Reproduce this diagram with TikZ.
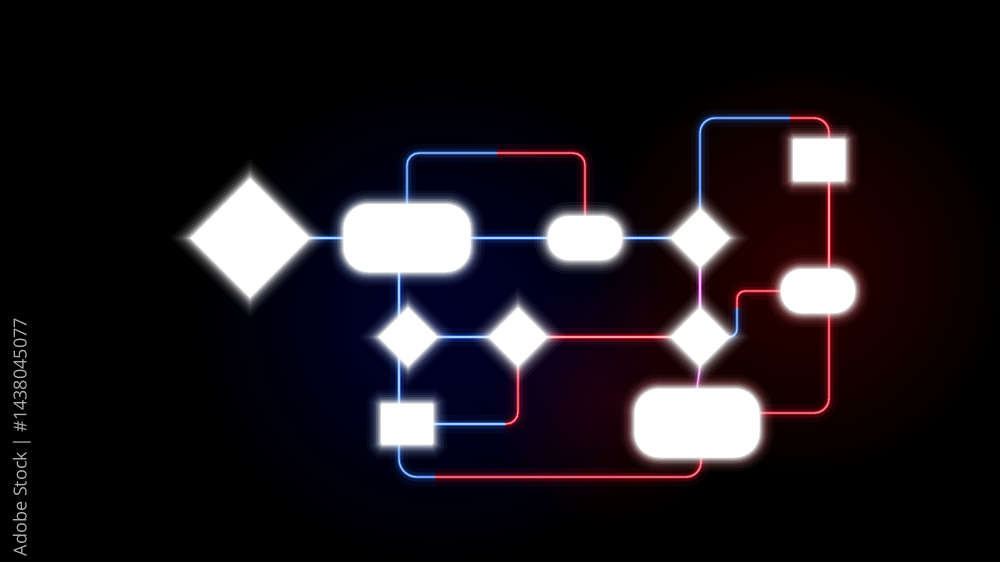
\documentclass[tikz,border=0pt]{standalone}
\usepackage{fontspec}
\newfontfamily\wmfont{Open Sans}
\usetikzlibrary{shapes.geometric}
\pgfdeclarelayer{haze}
\pgfdeclarelayer{lines}
\pgfsetlayers{haze,lines,main}
\definecolor{bl}{RGB}{40,120,255}
\definecolor{blcore}{RGB}{170,205,255}
\definecolor{rd}{RGB}{255,20,50}
\definecolor{rdcore}{RGB}{255,150,160}
\definecolor{mg}{RGB}{220,70,230}
\definecolor{mgcore}{RGB}{245,180,250}
\definecolor{wm}{RGB}{175,175,175}
\definecolor{hzb}{RGB}{20,60,200}
\definecolor{hzr}{RGB}{200,0,30}
\tikzset{
 glow/.style 2 args={draw=#2, line width=1.3pt, line cap=round,
   preaction={draw=#1, line width=18pt, draw opacity=.06},
   preaction={draw=#1, line width=9pt, draw opacity=.15},
   preaction={draw=#1, line width=3.4pt, draw opacity=.6}},
 bglow/.style={glow={bl}{blcore}},
 rglow/.style={glow={rd}{rdcore}},
 mglow/.style={glow={mg}{mgcore}},
 shape glow/.style={fill=white, draw=white, line width=2pt,
   preaction={draw=#1, line width=30pt, draw opacity=.05},
   preaction={draw=#1, line width=24pt, draw opacity=.08},
   preaction={draw=#1, line width=19pt, draw opacity=.1},
   preaction={draw=white, line width=15pt, draw opacity=.12},
   preaction={draw=white, line width=12pt, draw opacity=.16},
   preaction={draw=white, line width=9pt, draw opacity=.2},
   preaction={draw=white, line width=7pt, draw opacity=.24},
   preaction={draw=white, line width=5pt, draw opacity=.3},
   preaction={draw=white, line width=3.5pt, draw opacity=.45}},
 dia/.style={diamond, aspect=1, inner sep=0pt, minimum width=#1, minimum height=#1},
 rbox/.style 2 args={rectangle, inner sep=0pt, minimum width=#1, minimum height=#2},
}
\begin{document}
\begin{tikzpicture}[x=1pt, y=-1pt]
\useasboundingbox (0,0) rectangle (1000,562);
\begin{pgfonlayer}{haze}
\fill[black] (0,0) rectangle (1000,562);
\foreach \r in {10,20,...,240} \fill[hzb, fill opacity=.012] (440,320) circle[radius=\r pt];
\foreach \r in {10,20,...,200} \fill[hzr, fill opacity=.016] (800,270) circle[radius=\r pt];
\foreach \r in {8,16,...,120} \fill[hzr, fill opacity=.01] (610,400) circle[radius=\r pt];
\end{pgfonlayer}

% nodes
\node[dia=117pt, shape glow=white] (d1) at (250,238) {};
\node[rbox={125pt}{66pt}, rounded corners=24pt, shape glow=blcore] (r1) at (407,238) {};
\node[rbox={72pt}{42pt}, rounded corners=20pt, shape glow=white] (p1) at (585,238) {};
\node[dia=57pt, shape glow=white] (d3) at (700,238) {};
\node[rbox={50pt}{40pt}, rounded corners=1pt, shape glow=rdcore] (sq1) at (819,160) {};
\node[rbox={72pt}{42pt}, rounded corners=20pt, shape glow=rdcore] (p2) at (818,291) {};
\node[dia=57pt, shape glow=blcore] (d2a) at (408,337) {};
\node[dia=57pt, shape glow=white] (d2b) at (518,337) {};
\node[dia=57pt, shape glow=white] (d4) at (700,337) {};
\node[rbox={50pt}{39pt}, rounded corners=1pt, shape glow=blcore] (sq2) at (407,424) {};
\node[rbox={123pt}{67pt}, rounded corners=24pt, shape glow=rdcore] (r2) at (697,423) {};

\node[rotate=90, text=wm, font=\wmfont\fontsize{18}{18}\selectfont, inner sep=0pt] (wmk) at (22,437) {Adobe Stock | \#1438045077};

% connectors
\begin{pgfonlayer}{lines}
\draw[bglow] (d1.east) -- (r1.west);
\draw[bglow] (r1.east) -- (p1.west);
\draw[bglow] (p1.east) -- (d3.west);
\coordinate (m1) at (497,153);
\draw[bglow, rounded corners=12pt] (r1.north) |- (m1);
\draw[rglow, rounded corners=12pt] (m1) -| (p1.north);
\draw[bglow] ([xshift=-8pt]r1.south) -- ([xshift=-8pt]sq2.north);
\draw[bglow] (d2a.east) -- (d2b.west);
\draw[rglow] (d2b.east) -- (d4.west);
\coordinate (m8) at (505,424);
\draw[rglow, rounded corners=12pt] (d2b.south) |- (m8);
\draw[bglow] (m8) -- (sq2.east);
\coordinate (m9) at (435,477);
\draw[bglow, rounded corners=18pt] ([xshift=-8pt]sq2.south) |- (m9);
\draw[rglow, rounded corners=15pt] (m9) -| ([xshift=4pt]r2.south);
\coordinate (m10) at (790,118);
\draw[bglow, rounded corners=15pt] (d3.north) |- (m10);
\draw[rglow, rounded corners=15pt] (m10) -| ([xshift=10pt]sq1.north);
\draw[rglow] ([xshift=10pt]sq1.south) -- ([xshift=11pt]p2.north);
\draw[rglow, rounded corners=15pt] ([xshift=11pt]p2.south) |- ([yshift=10pt]r2.east);
\draw[mglow] (d3.south) -- (d4.north);
\draw[mglow] (d4.south) -- (r2.north);
\coordinate (m12) at (737,308);
\draw[rglow, rounded corners=8pt] (p2.west) -| (m12);
\draw[bglow, rounded corners=8pt] (m12) |- (d4.east);
\end{pgfonlayer}
\end{tikzpicture}
\end{document}
